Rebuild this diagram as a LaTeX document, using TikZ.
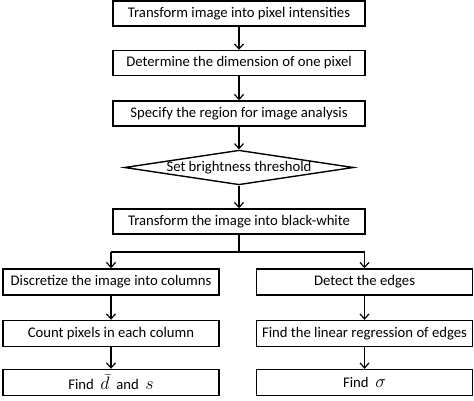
\documentclass[tikz,border=0pt]{standalone}
\usepackage{fontspec}
\setmainfont{Carlito}
\usetikzlibrary{arrows.meta,shapes.geometric}
\begin{document}
\begin{tikzpicture}[x=1pt,y=1pt,
  box/.style={draw,line width=1.4pt,rectangle,inner sep=0pt,font=\fontsize{14.7}{16}\selectfont},
  wide/.style={box,minimum width=252pt,minimum height=25pt},
  col/.style={box,minimum width=216pt,minimum height=26pt},
  dia/.style={draw,line width=1.4pt,diamond,aspect=6.6,inner sep=0pt,minimum width=218pt,minimum height=33pt,font=\fontsize{14.7}{16}\selectfont},
  arr/.style={line width=1.2pt,-{Straight Barb[length=5pt,width=9pt,line width=1.2pt]}},
  ln/.style={line width=1.2pt}]
\useasboundingbox (0,0) rectangle (474,-401);
\node[wide] (b1) at (239,-13.5) {Transform image into pixel intensities};
\node[wide] (b2) at (239,-63) {Determine the dimension of one pixel};
\node[wide] (b3) at (239,-113.5) {Specify the region for image analysis};
\node[dia] (d) at (239,-167.5) {Set brightness threshold};
\node[wide] (b5) at (239,-221.5) {Transform the image into black-white};
\node[col] (l1) at (111,-282) {Discretize the image into columns};
\node[col] (l2) at (111,-333.5) {Count pixels in each column};
\node[col] (l3) at (111,-382.5) {Find \ \scalebox{1.25}{$\bar{d}$}\ \ and \ \scalebox{1.25}{$s$}};
\node[col] (r1) at (364.5,-282) {Detect the edges};
\node[col] (r2) at (364.5,-333.5) {Find the linear regression of edges};
\node[col] (r3) at (364.5,-382.5) {Find \ \scalebox{1.25}{$\sigma$}};
\coordinate (sl) at (111,-252);
\coordinate (sr) at (364.5,-252);
\draw[arr] (b1) -- (b2);
\draw[arr] (b2) -- (b3);
\draw[arr] (b3) -- (d);
\draw[arr] (d) -- (b5);
\draw[ln] (b5.south) -- (b5.south |- sl);
\draw[ln] (sl) -- (sr);
\draw[arr] (sl) -- (l1);
\draw[arr] (sr) -- (r1);
\draw[arr] (l1) -- (l2);
\draw[arr] (l2) -- (l3);
\draw[arr] (r1) -- (r2);
\draw[arr] (r2) -- (r3);
\end{tikzpicture}
\end{document}
